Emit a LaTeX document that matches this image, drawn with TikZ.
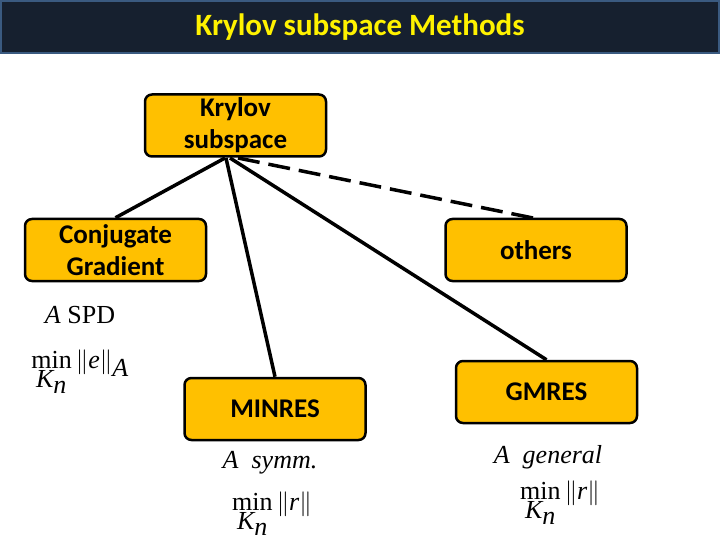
\documentclass[tikz,border=0pt]{standalone}
\usepackage{fontspec}
\setmainfont{Liberation Serif}
\newfontfamily\calfont{Carlito}
\definecolor{boxy}{HTML}{FFC000}
\definecolor{bar}{HTML}{16202F}
\definecolor{barb}{HTML}{3A5A80}
\tikzset{
 bx/.style={draw=black,line width=2.5pt,fill=boxy,rounded corners=7pt,minimum width=181pt,minimum height=62pt,inner sep=2pt,align=center,font=\calfont\bfseries\fontsize{27}{32}\selectfont},
 conn/.style={line width=3.5pt},
 mt/.style={font=\fontsize{26}{30}\selectfont,anchor=center}
}
\newcommand{\mymin}[1]{$\mathop{\textrm{min}}\limits_{\textit{K}_{\textit{n}}}\|\textit{#1}\|$}
\begin{document}
\begin{tikzpicture}[x=1pt,y=-1pt]
\useasboundingbox (0,0) rectangle (720,540);
\node[draw=barb,fill=bar,line width=2pt,minimum width=718pt,minimum height=52pt,inner sep=0pt,font=\calfont\bfseries\fontsize{31}{36}\selectfont,text=yellow] (title) at (360,27) {Krylov subspace Methods};
\node[bx] (k) at (235.5,125.5) {Krylov\\subspace};
\node[bx] (cg) at (115.5,250) {Conjugate\\Gradient};
\node[bx] (ot) at (536,250) {others};
\node[bx] (mr) at (275,409) {MINRES};
\node[bx] (gm) at (546.5,392) {GMRES};
\coordinate (k1) at (225,158);
\coordinate (k2) at (226,158);
\coordinate (k3) at (230,158);
\coordinate (k4) at (238,158);
\coordinate (o1) at (533,218);
\draw[conn] (k1) -- (cg.north);
\draw[conn] (k2) -- (mr.north);
\draw[conn] (k3) -- (gm.north);
\draw[conn,dash pattern=on 22pt off 9pt] (k4) -- (o1);
\node[mt] (t1) at (80,315) {\textit{A} SPD};
\node[mt] (t2) at (80,372) {\mymin{e}$_{\textit{A}}$};
\node[mt] (t3) at (270,463) {\textit{A\ \ symm.}};
\node[mt] (t4) at (272,514) {\mymin{r}};
\node[mt] (t5) at (548,457) {\textit{A\ \ general}};
\node[mt] (t6) at (560,503) {\mymin{r}};
\end{tikzpicture}
\end{document}
